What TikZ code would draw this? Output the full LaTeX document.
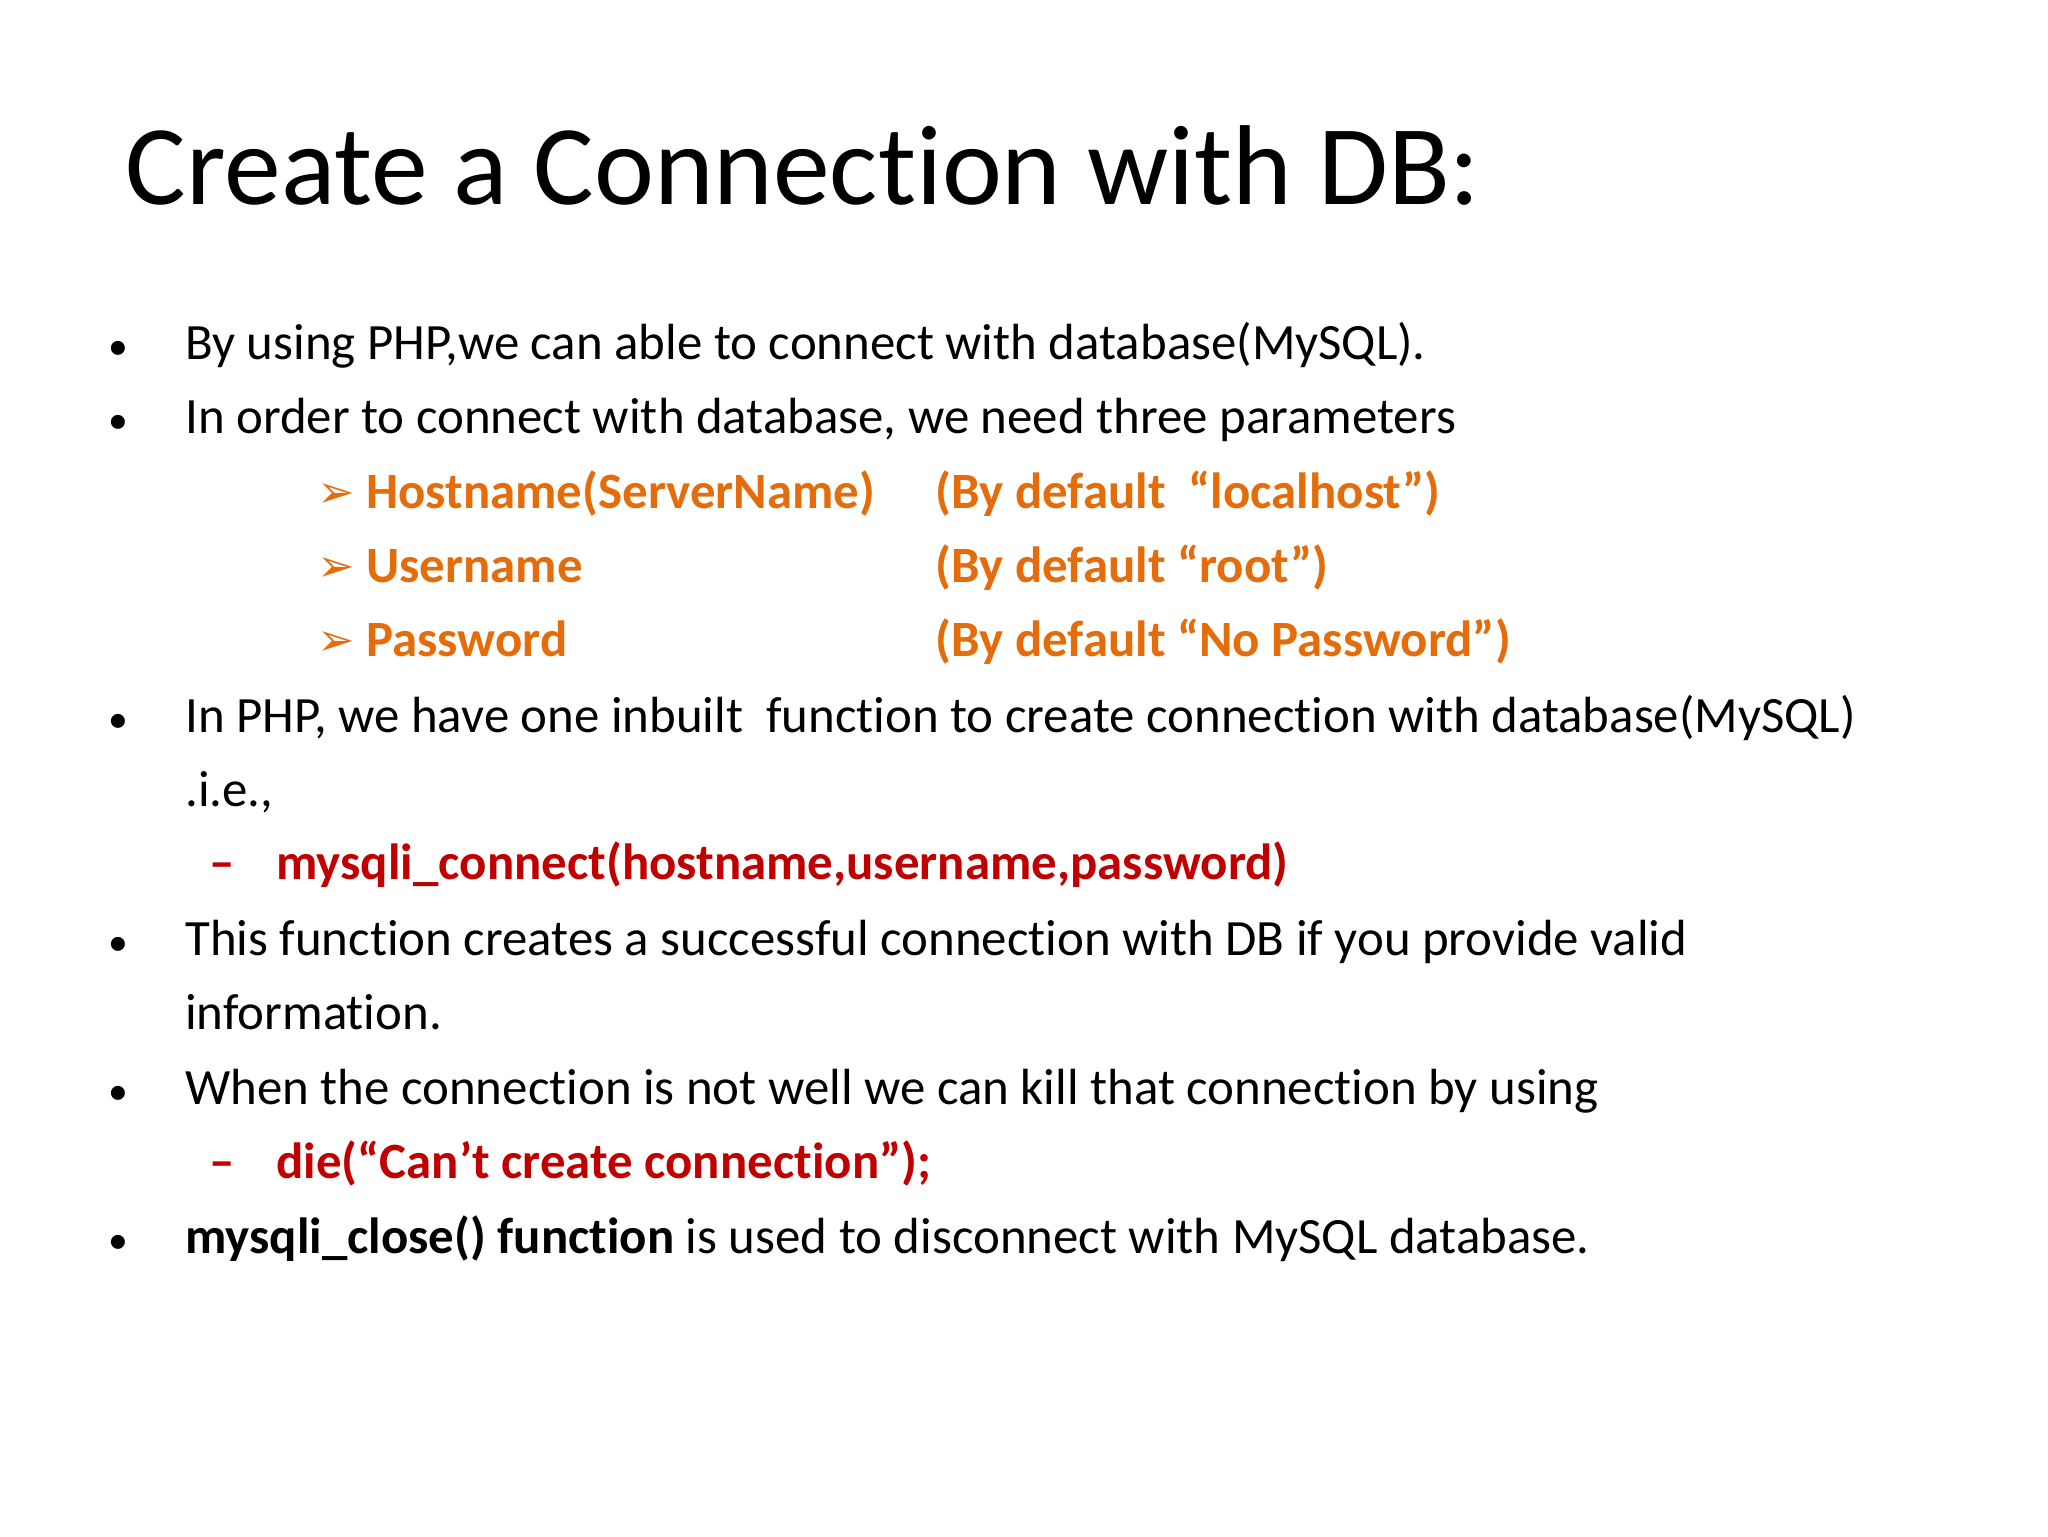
\documentclass[tikz,border=0pt]{standalone}
\usepackage{fontspec}
\setmainfont{Carlito}[RawFeature={-liga}]
\newfontfamily\dej{DejaVu Sans}
\definecolor{orng}{HTML}{E46C0A}
\definecolor{dred}{HTML}{C00000}
\begin{document}
\begin{tikzpicture}[x=1pt,y=-1pt,
  txt/.style={anchor=base west,inner sep=0pt,font=\fontsize{38.5}{42}\selectfont},
  bul/.style={txt,font=\fontsize{30}{34}\selectfont},
  org/.style={txt,text=orng,font=\fontsize{38.5}{42}\selectfont\bfseries},
  red/.style={txt,text=dred,font=\fontsize{38.5}{42}\selectfont\bfseries}]
\useasboundingbox[fill=white] (0,0) rectangle (1550,1163);
\node[txt,font=\fontsize{86}{90}\selectfont] (title) at (95,155) {Create a Connection with DB:};
\foreach \y/\n in {272/b1,328/b2,554/b3,723/b4,836/b5,949/b6}
  \node[bul] (\n) at (82,\y) {•};
\node[txt] (t1) at (140,272) {By using PHP,we can able to connect with database(MySQL).};
\node[txt] (t2) at (140,328) {In order to connect with database, we need three parameters};
\foreach \y/\n in {385/a1,441/a2,497/a3}
  \node[txt,text=orng,font=\fontsize{34}{38}\selectfont\dej] (\n) at (240,\y-1) {➢};
\node[org] (h1) at (277,385) {Hostname(ServerName)};
\node[org] (h2) at (708,385) {(By default~~“localhost”)};
\node[org] (u1) at (277,441) {Username};
\node[org] (u2) at (708,441) {(By default “root”)};
\node[org] (p1) at (277,497) {Password};
\node[org] (p2) at (708,497) {(By default “No Password”)};
\node[txt] (t3) at (140,554) {In PHP, we have one inbuilt~ function to create connection with database(MySQL)};
\node[txt] (t3b) at (140,610) {.i.e.,};
\node[red] (d1) at (158,666) {–};
\node[red] (m1) at (209,666) {mysqli\_connect(hostname,username,password)};
\node[txt] (t4) at (140,723) {This function creates a successful connection with DB if you provide valid};
\node[txt] (t4b) at (140,779) {information.};
\node[txt] (t5) at (140,836) {When the connection is not well we can kill that connection by using};
\node[red] (d2) at (158,892) {–};
\node[red] (m2) at (209,892) {die(“Can’t create connection”);};
\node[txt] (t6) at (140,949) {\textbf{mysqli\_close() function} is used to disconnect with MySQL database.};
\end{tikzpicture}
\end{document}
